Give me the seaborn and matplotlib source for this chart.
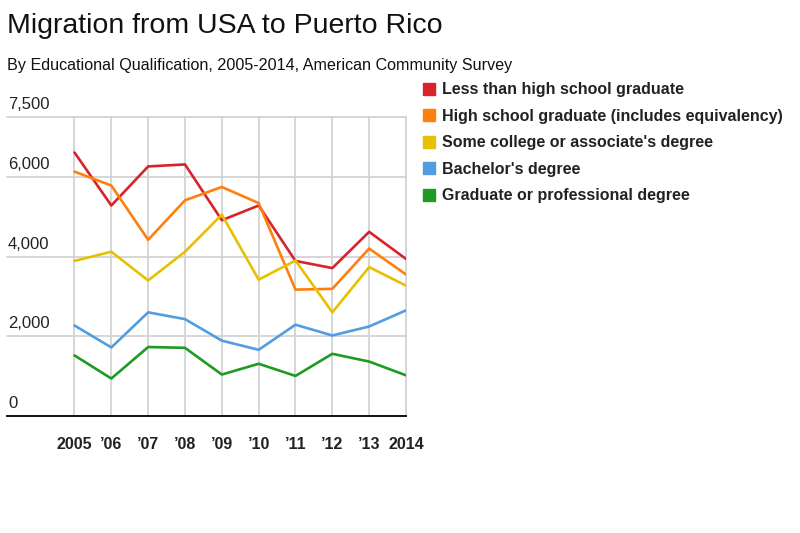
import matplotlib
matplotlib.use("Agg")
import matplotlib.pyplot as plt
import matplotlib.transforms as mtransforms
from matplotlib.lines import Line2D
import pandas as pd
import seaborn as sns

years = [2005, 2006, 2007, 2008, 2009, 2010, 2011, 2012, 2013, 2014]
year_labels = ["2005", "\u201906", "\u201907", "\u201908", "\u201909",
               "\u201910", "\u201911", "\u201912", "\u201913", "2014"]

less_than_hs = [6610, 5280, 6260, 6310, 4910, 5280, 3890, 3710, 4620, 3940]
hs_graduate = [6130, 5780, 4420, 5410, 5745, 5340, 3170, 3190, 4200, 3550]
some_college = [3890, 4120, 3400, 4120, 5050, 3420, 3900, 2600, 3735, 3270]
bachelors = [2270, 1720, 2600, 2430, 1890, 1660, 2290, 2020, 2245, 2650]
graduate = [1520, 940, 1730, 1710, 1040, 1310, 1005, 1560, 1365, 1020]

series_names = [
    "Less than high school graduate",
    "High school graduate (includes equivalency)",
    "Some college or associate's degree",
    "Bachelor's degree",
    "Graduate or professional degree",
]
series_colors = ["#d8232a", "#ff7f0e", "#e8c000", "#519de0", "#1f9a22"]

y_ticks = [0, 2000, 4000, 6000, 7500]
y_labels = ["0", "2,000", "4,000", "6,000", "7,500"]

sns.set_theme(style="white")
plt.rcParams["font.family"] = ["Liberation Sans", "DejaVu Sans"]

frames = []
for name, vals in zip(series_names, [less_than_hs, hs_graduate, some_college, bachelors, graduate]):
    frames.append(pd.DataFrame({"Year": years, "Migrants": vals, "Education": name}))
df = pd.concat(frames, ignore_index=True)

fig = plt.figure(figsize=(8, 5.33), dpi=100)
ax = fig.add_axes([7 / 800, 117 / 533, 399 / 800, 299 / 533])

sns.lineplot(
    data=df, x="Year", y="Migrants", hue="Education",
    hue_order=series_names, palette=dict(zip(series_names, series_colors)),
    linewidth=1.9, legend=False, ax=ax, zorder=3,
)

span = years[-1] - years[0]
ax.set_xlim(years[0] - span * 67.5 / 331.5, years[-1])
ax.set_ylim(0, 7500)

# grid
for yv in y_ticks[1:]:
    ax.axhline(yv, color="#d0d0d0", linewidth=1.2, zorder=1, clip_on=False)
for xv in years:
    ax.axvline(xv, color="#d0d0d0", linewidth=1.2, zorder=1, clip_on=False)

for side in ["left", "right", "top"]:
    ax.spines[side].set_visible(False)
ax.spines["bottom"].set_color("#111111")
ax.spines["bottom"].set_linewidth(1.4)
ax.spines["bottom"].set_zorder(4)

ax.set_yticks([])
ax.set_xticks(years)
ax.set_xticklabels(year_labels, fontsize=11.5, fontweight="bold", color="#222222")
ax.tick_params(axis="x", length=0, pad=15)
ax.set_xlabel("")
ax.set_ylabel("")

# y labels above gridlines, left aligned
trans = mtransforms.blended_transform_factory(ax.transAxes, ax.transData)
offset = mtransforms.offset_copy(trans, fig=fig, x=1, y=5, units="dots")
for yv, lab in zip(y_ticks, y_labels):
    ax.text(0.0, yv, lab, transform=offset, ha="left", va="bottom",
            fontsize=12, color="#222222")

fig.text(7 / 800, 1 - 26 / 533, "Migration from USA to Puerto Rico",
         fontsize=20.5, color="#111111", va="center", ha="left")
fig.text(7 / 800, 1 - 66 / 533, "By Educational Qualification, 2005-2014, American Community Survey",
         fontsize=11.6, color="#111111", va="center", ha="left")

handles = [Line2D([], [], marker="s", linestyle="none", markersize=9,
                  markerfacecolor=c, markeredgecolor=c) for c in series_colors]
leg = fig.legend(handles, series_names, loc="upper left",
                 bbox_to_anchor=(408 / 800, 1 - 68 / 533), frameon=False,
                 handlelength=0.8, handletextpad=0.4, labelspacing=0.72,
                 prop={"size": 11.5, "weight": "bold"})
for t in leg.get_texts():
    t.set_color("#222222")

fig.savefig("out.png", dpi=100)
